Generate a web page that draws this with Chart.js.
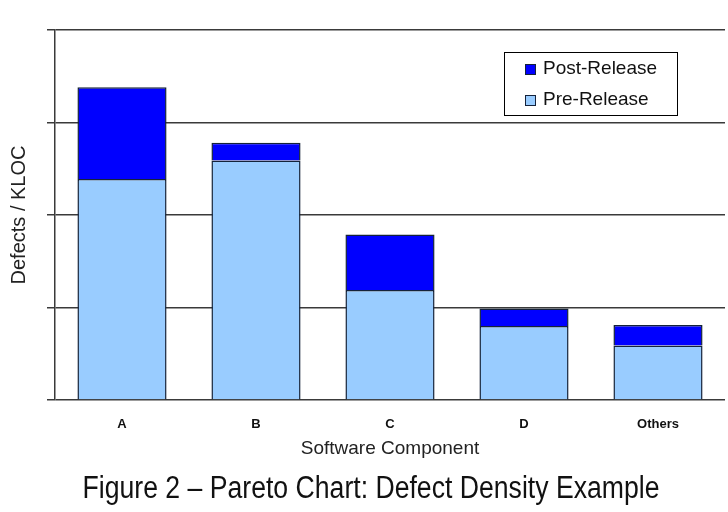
<!DOCTYPE html>
<html>
<head>
<meta charset="utf-8">
<script src="https://cdn.jsdelivr.net/npm/chart.js@4/dist/chart.umd.min.js"></script>
<style>
  body { margin: 0; background: #fff; }
  #wrap { width: 728px; height: 512px; }
</style>
</head>
<body>
<div id="wrap"><canvas id="myChartPareto" width="728" height="512"></canvas></div>
<script>
const ctxPareto = document.getElementById('myChartPareto');

// data (gridlines every 1 unit, no numbers shown)
const components = ['A', 'B', 'C', 'D', 'Others'];
const preRelease = [2.39, 2.59, 1.19, 0.80, 0.59];
const postRelease = [0.99, 0.19, 0.60, 0.19, 0.22];
const yTicks = [0, 1, 2, 3, 4];

const FONT = "'Liberation Sans', Arial, sans-serif";
const GRID = '#3a3a3a';
const EDGE = '#14223a';

// legend box inside the plot, top-right
const boxLegend = {
  id: 'boxLegend',
  afterDraw(chart) {
    const c = chart.ctx;
    const x = 504, y = 52, w = 173, h = 63;
    c.save();
    c.fillStyle = '#fff';
    c.fillRect(x, y, w, h);
    c.strokeStyle = '#000';
    c.lineWidth = 1;
    c.strokeRect(x + 0.5, y + 0.5, w, h);
    const items = chart.data.datasets.slice().reverse();
    c.font = '19px ' + FONT;
    c.textBaseline = 'middle';
    items.forEach((ds, i) => {
      const cy = y + 17 + i * 31;
      c.fillStyle = ds.backgroundColor;
      c.fillRect(x + 21, cy - 5, 11, 11);
      c.strokeStyle = EDGE;
      c.strokeRect(x + 21.5, cy - 4.5, 10, 10);
      c.fillStyle = '#111';
      c.fillText(ds.label, x + 39, cy);
    });
    c.restore();
  }
};

// figure caption under the axis title (condensed like Arial Narrow)
const caption = {
  id: 'caption',
  afterDraw(chart) {
    const c = chart.ctx;
    c.save();
    c.font = '31px ' + FONT;
    c.fillStyle = '#111';
    c.textAlign = 'center';
    c.textBaseline = 'middle';
    c.fillText('Figure 2 \u2013 Pareto Chart: Defect Density Example', 371, 489, 577);
    c.restore();
  }
};

new Chart(ctxPareto, {
  type: 'bar',
  data: {
    labels: components,
    datasets: [{
      label: 'Pre-Release',
      data: preRelease,
      backgroundColor: '#99ccff',
      borderColor: EDGE,
      borderWidth: 1.5,
      borderSkipped: 'bottom'
    }, {
      label: 'Post-Release',
      data: postRelease,
      backgroundColor: '#0000ff',
      borderColor: EDGE,
      borderWidth: 1.5,
      borderSkipped: 'bottom'
    }]
  },
  options: {
    responsive: false,
    animation: false,
    datasets: {
      bar: { categoryPercentage: 1, barPercentage: 0.665 }
    },
    layout: {
      padding: { top: 30, right: 3, bottom: 52, left: 0 }
    },
    plugins: {
      legend: { display: false },
      tooltip: { enabled: false }
    },
    scales: {
      x: {
        stacked: true,
        grid: { display: false, drawTicks: false },
        border: { display: false },
        ticks: {
          padding: 17,
          color: '#111',
          font: { family: FONT, size: 13, weight: 'bold' }
        },
        title: {
          display: true,
          text: 'Software Component',
          color: '#222',
          padding: { top: 6, bottom: 0 },
          font: { family: FONT, size: 19 }
        },
        afterFit(scale) { scale.height = 60; }
      },
      y: {
        stacked: true,
        min: yTicks[0],
        max: yTicks[yTicks.length - 1],
        afterBuildTicks(scale) { scale.ticks = yTicks.map(v => ({ value: v })); },
        grid: { color: GRID, lineWidth: 1.5, tickLength: 8, drawTicks: true },
        border: { display: true, color: GRID, width: 1.5 },
        ticks: { display: false },
        title: {
          display: true,
          text: 'Defects / KLOC',
          color: '#222',
          padding: { top: 7, bottom: 4 },
          font: { family: FONT, size: 20 }
        },
        afterFit(scale) { scale.width = 55; }
      }
    }
  },
  plugins: [boxLegend, caption]
});
</script>
</body>
</html>
